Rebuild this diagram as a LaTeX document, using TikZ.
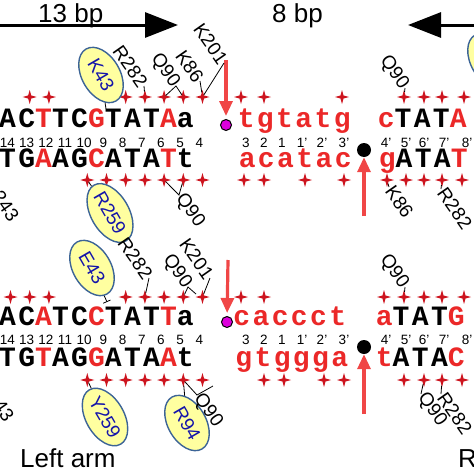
\documentclass[tikz,border=0pt]{standalone}
\usepackage{fontspec}
\setmainfont{Liberation Sans}
\newfontfamily\dnafont{Liberation Mono}[LetterSpace=8.6]
\usetikzlibrary{arrows.meta,shapes.geometric}

\definecolor{ntred}{RGB}{235,40,40}
\definecolor{plred}{RGB}{205,20,30}
\definecolor{resfill}{RGB}{255,255,160}
\definecolor{resedge}{RGB}{60,100,150}
\definecolor{restext}{RGB}{20,20,170}
\definecolor{cutred}{RGB}{240,70,70}
\definecolor{dotmag}{RGB}{220,0,220}

\newcommand{\rd}[1]{\textcolor{ntred}{#1}}

\tikzset{
  dna/.style={font=\fontsize{28}{28}\selectfont\dnafont\bfseries, inner sep=0pt, anchor=base west},
  idx/.style={font=\fontsize{13.5}{14}\selectfont, inner sep=0pt, anchor=base},
  pl/.style={star, star points=4, star point ratio=3.2, fill=plred, minimum size=14pt, inner sep=0pt, outer sep=0pt},
  lab/.style={font=\fontsize{19}{19}\selectfont, rotate=-55, inner sep=1pt},
  res/.style={ellipse, draw=resedge, line width=1.4pt, fill=resfill, text=restext,
    font=\fontsize{19}{19}\selectfont, rotate=-60, minimum width=60pt, minimum height=38pt, inner sep=0pt},
  bp/.style={font=\fontsize{26}{26}\selectfont, inner sep=0pt, anchor=base west},
  bpspan/.style={line width=3pt, -{Triangle[length=33pt,width=25pt]}},
  cutarrow/.style={cutred, line width=3.2pt, -{Triangle[length=15pt,width=13pt]}},
  conn/.style={line width=0.8pt},
  magdot/.style={circle, fill=dotmag, draw=black, line width=1pt, minimum size=11pt, inner sep=0pt},
  blkdot/.style={circle, fill=black, minimum size=14pt, inner sep=0pt}
}

\begin{document}
\begin{tikzpicture}[x=1pt, y=-1pt]
\useasboundingbox (0,0) rectangle (474,474);

% arm lengths
\node[bp] (bp13) at (38,22) {13 bp};
\node[bp] (bp8) at (272,22) {8 bp};
\coordinate (sl0) at (-5,25); \coordinate (sl1) at (178,25);
\coordinate (sr0) at (480,25); \coordinate (sr1) at (408,25);
\draw[bpspan] (sl0) -- (sl1);
\draw[bpspan] (sr0) -- (sr1);
\node[res] (rres) at (490,61) {};

%% first complex
\node[dna] (t1L) at (-1,127) {AC\rd{T}TC\rd{G}TAT\rd{A}a};
\node[dna] (t1M) at (237.6,127) {\rd{tgtatg}};
\node[dna] (t1R) at (377.6,127) {\rd{c}TAT\rd{A}};
\node[dna] (b1L) at (-1,167) {TG\rd{A}AG\rd{C}ATA\rd{T}t};
\node[dna] (b1M) at (238.6,167) {\rd{acatac}};
\node[dna] (b1R) at (378.6,167) {\rd{g}ATA\rd{T}};
\foreach \i in {0,...,10} {
  \pgfmathtruncatemacro\n{14-\i}
  \node[idx] (n1-\i) at (\i*19.2+7.4,147) {\n};
}
\foreach \x/\t [count=\k] in {246/3,264/2,282/1,302/1',322/2',344/3',386/4',406/5',424/6',444/7',467/8'}
  \node[idx] (n1m-\k) at (\x,147) {\t};
\foreach \i in {1,2,6,7,8,9,10} \node[pl] (p1t-\i) at (\i*19.2+10.5,97) {};
\foreach \n/\x in {m3/241,m2/264,m3p/342,r5/404,r6/424,r7/442,r8/464} \node[pl] (p1t-\n) at (\x,97) {};
\foreach \i in {4,...,10} \node[pl] (p1b-\i) at (\i*19.2+10.5,180) {};
\foreach \n/\x in {m3/244,m2/264,m1p/305,m3p/344,r4/387,r5/406,r6/424,r7/442,r8/462} \node[pl] (p1b-\n) at (\x,180) {};

\node[magdot] (cut1t) at (226,125) {};
\node[blkdot] (cut1b) at (364,150) {};
\coordinate (a1t) at (226,60); \coordinate (a1b) at (364,216);
\draw[cutarrow, shorten >=3pt] (a1t) -- (cut1t);
\draw[cutarrow] (a1b) -- (cut1b);

% contacts, top strand
\node[res] (k43) at (101,75) {K43};
\coordinate (k43pin) at (106,109);
\draw[conn] (k43) -- (k43pin);
\node[lab, anchor=east] (r282a) at (144,86) {R282};
\draw[conn] (r282a.east) -- (p1t-7);
\node[lab, anchor=east] (q90a) at (176,86) {Q90};
\draw[conn] (p1t-8) -- (q90a.east) -- (p1t-9);
\node[lab, anchor=east] (k86a) at (200,81) {K86};
\draw[conn] (k86a.east) -- (p1t-10);
\node[lab, anchor=east] (k201a) at (224,63) {K201};
\draw[conn] (k201a.east) -- (p1t-10);
\node[lab, anchor=east] (q90b) at (405,88) {Q90};
\draw[conn] (q90b.east) -- (p1t-r5);
% contacts, bottom strand
\node[res] (r259a) at (110,213) {R259};
\draw[conn] (p1b-4) -- (r259a);
\node[lab, anchor=west] (q90c) at (179,195) {Q90};
\draw[conn] (p1b-8) -- (q90c.west) -- (p1b-9);
\node[lab, anchor=west] (k86b) at (389,187) {K86};
\draw[conn] (p1b-r4) -- (k86b.west);
\node[lab, anchor=west] (r282b) at (441,189) {R282};
\draw[conn] (p1b-r7) -- (r282b.west);
\node[lab, anchor=west] (l243) at (-4,192) {243};

%% second complex
\node[dna] (t2L) at (-1,325) {AC\rd{A}TC\rd{C}TAT\rd{T}a};
\node[dna] (t2M) at (233.2,325) {\rd{caccct}};
\node[dna] (t2R) at (375.7,325) {\rd{a}TAT\rd{G}};
\node[dna] (b2L) at (-1,366) {TG\rd{T}AG\rd{G}ATA\rd{A}t};
\node[dna] (b2M) at (235.2,366) {\rd{gtggga}};
\node[dna] (b2R) at (375.7,366) {\rd{t}ATA\rd{C}};
\foreach \i in {0,...,10} {
  \pgfmathtruncatemacro\n{14-\i}
  \node[idx] (n2-\i) at (\i*19.2+7.4,344) {\n};
}
\foreach \x/\t [count=\k] in {246/3,264/2,282/1,302/1',322/2',344/3',386/4',406/5',424/6',444/7',467/8'}
  \node[idx] (n2m-\k) at (\x,344) {\t};
\foreach \i in {0,1,2,6,7,8,9,10} \node[pl] (p2t-\i) at (\i*19.2+10.5,297) {};
\foreach \n/\x in {m3/241,m2/264,r4/384,r5/404,r6/424,r7/442,r8/464} \node[pl] (p2t-\n) at (\x,297) {};
\foreach \i in {4,...,10} \node[pl] (p2b-\i) at (\i*19.2+10.5,380) {};
\foreach \n/\x in {m2/264,m1/284,m2p/324,m3p/344,r5/404,r6/424,r7/442,r8/462} \node[pl] (p2b-\n) at (\x,380) {};

\node[magdot] (cut2t) at (227,322) {};
\node[blkdot] (cut2b) at (364,347) {};
\coordinate (a2t) at (228,260); \coordinate (a2b) at (364,414);
\draw[cutarrow, shorten >=3pt] (a2t) -- (cut2t);
\draw[cutarrow] (a2b) -- (cut2b);

% contacts, top strand
\node[res] (e43) at (92,268) {E43};
\coordinate (e43pin) at (107,302);
\draw[conn, -{Bar[width=8pt]}] (e43) -- (e43pin);
\node[lab, anchor=east] (r282c) at (149,278) {R282};
\draw[conn] (r282c.east) -- (p2t-7);
\node[lab, anchor=east] (q90d) at (188,287) {Q90};
\coordinate (q90dpin) at (196,294);
\draw[conn] (p2t-9) -- (q90d.east) -- (q90dpin);
\node[lab, anchor=east] (k201b) at (210,278) {K201};
\draw[conn] (k201b.east) -- (p2t-10);
\node[lab, anchor=east] (q90e) at (405,287) {Q90};
\draw[conn] (q90e.east) -- (p2t-r5);
% contacts, bottom strand
\node[res] (y259) at (105,417) {Y259};
\draw[conn] (p2b-4) -- (y259);
\node[res] (r94) at (187,423) {R94};
\draw[conn] (p2b-9) -- (r94);
\node[lab, anchor=west] (q90f) at (197,395) {Q90};
\coordinate (q90fpin) at (213,386);
\draw[conn] (p2b-9) -- (q90f.west) -- (q90fpin);
\node[lab, anchor=west] (q90g) at (421,394) {Q90};
\draw[conn] (p2b-r6) -- (q90g.west);
\node[lab, anchor=west] (r282d) at (441,394) {R282};
\draw[conn] (p2b-r7) -- (r282d.west);
\node[lab, anchor=west] (l43) at (-3,401) {43};

% arms
\node[bp] (larm) at (20,467) {Left arm};
\node[bp] (rarm) at (458,467) {R};
\end{tikzpicture}
\end{document}
